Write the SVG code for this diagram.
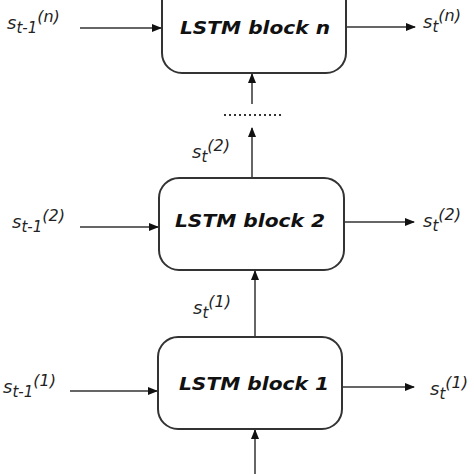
<svg xmlns="http://www.w3.org/2000/svg" width="474" height="474" viewBox="0 0 474 474">
<style>
.box{fill:#fff;stroke:#333;stroke-width:2}
.blk{font-family:"DejaVu Sans",sans-serif;font-size:17px;font-weight:bold;font-style:italic;fill:#111;text-anchor:middle}
.lbl{font-family:"DejaVu Sans",sans-serif;font-size:18px;font-style:italic;fill:#222}
.sup{font-size:16px}
.sub{font-size:15px}
.ln{stroke:#333;stroke-width:1.5;fill:none}
</style>
<defs>
<marker id="ah" markerWidth="10" markerHeight="8" refX="9" refY="4" orient="auto" markerUnits="userSpaceOnUse">
<path d="M0,0 L10,4 L0,8 Z" fill="#111"/>
</marker>
</defs>
<rect width="474" height="474" fill="#fff"/>
<g id="connectors">
<line class="ln" x1="80" y1="28" x2="161" y2="28" marker-end="url(#ah)"/>
<line class="ln" x1="346" y1="27" x2="415" y2="27" marker-end="url(#ah)"/>
<line class="ln" x1="252" y1="104" x2="252" y2="74" marker-end="url(#ah)"/>
<line x1="224" y1="115" x2="282" y2="115" stroke="#333" stroke-width="2" stroke-dasharray="2,3"/>
<line class="ln" x1="252" y1="178" x2="252" y2="128" marker-end="url(#ah)"/>
<line class="ln" x1="80" y1="227" x2="158" y2="227" marker-end="url(#ah)"/>
<line class="ln" x1="344" y1="222" x2="414" y2="222" marker-end="url(#ah)"/>
<line class="ln" x1="255" y1="337" x2="255" y2="271" marker-end="url(#ah)"/>
<line class="ln" x1="70" y1="391" x2="157" y2="391" marker-end="url(#ah)"/>
<line class="ln" x1="342" y1="387" x2="414" y2="387" marker-end="url(#ah)"/>
<line class="ln" x1="255" y1="474" x2="255" y2="430" marker-end="url(#ah)"/>
</g>
<g id="block-n">
<rect class="box" x="162" y="-20" width="184" height="93" rx="20"/>
<text class="blk" x="255" y="34" textLength="150" lengthAdjust="spacingAndGlyphs">LSTM block n</text>
</g>
<g id="block-2">
<rect class="box" x="159" y="178" width="185" height="92" rx="20"/>
<text class="blk" x="250" y="227" textLength="150" lengthAdjust="spacingAndGlyphs">LSTM block 2</text>
</g>
<g id="block-1">
<rect class="box" x="158" y="337" width="184" height="92" rx="20"/>
<text class="blk" x="254" y="390" textLength="150" lengthAdjust="spacingAndGlyphs">LSTM block 1</text>
</g>
<g id="labels">
<text class="lbl" x="7" y="29">s<tspan class="sub" dy="4">t-1</tspan><tspan class="sup" dy="-11">(n)</tspan></text>
<text class="lbl" x="423" y="28">s<tspan class="sub" dy="4">t</tspan><tspan class="sup" dy="-11">(n)</tspan></text>
<text class="lbl" x="192" y="158">s<tspan class="sub" dy="4">t</tspan><tspan class="sup" dy="-11">(2)</tspan></text>
<text class="lbl" x="12" y="228">s<tspan class="sub" dy="4">t-1</tspan><tspan class="sup" dy="-11">(2)</tspan></text>
<text class="lbl" x="423" y="227">s<tspan class="sub" dy="4">t</tspan><tspan class="sup" dy="-11">(2)</tspan></text>
<text class="lbl" x="193" y="314">s<tspan class="sub" dy="4">t</tspan><tspan class="sup" dy="-11">(1)</tspan></text>
<text class="lbl" x="3" y="393">s<tspan class="sub" dy="4">t-1</tspan><tspan class="sup" dy="-11">(1)</tspan></text>
<text class="lbl" x="430" y="395">s<tspan class="sub" dy="4">t</tspan><tspan class="sup" dy="-11">(1)</tspan></text>
</g>
</svg>
